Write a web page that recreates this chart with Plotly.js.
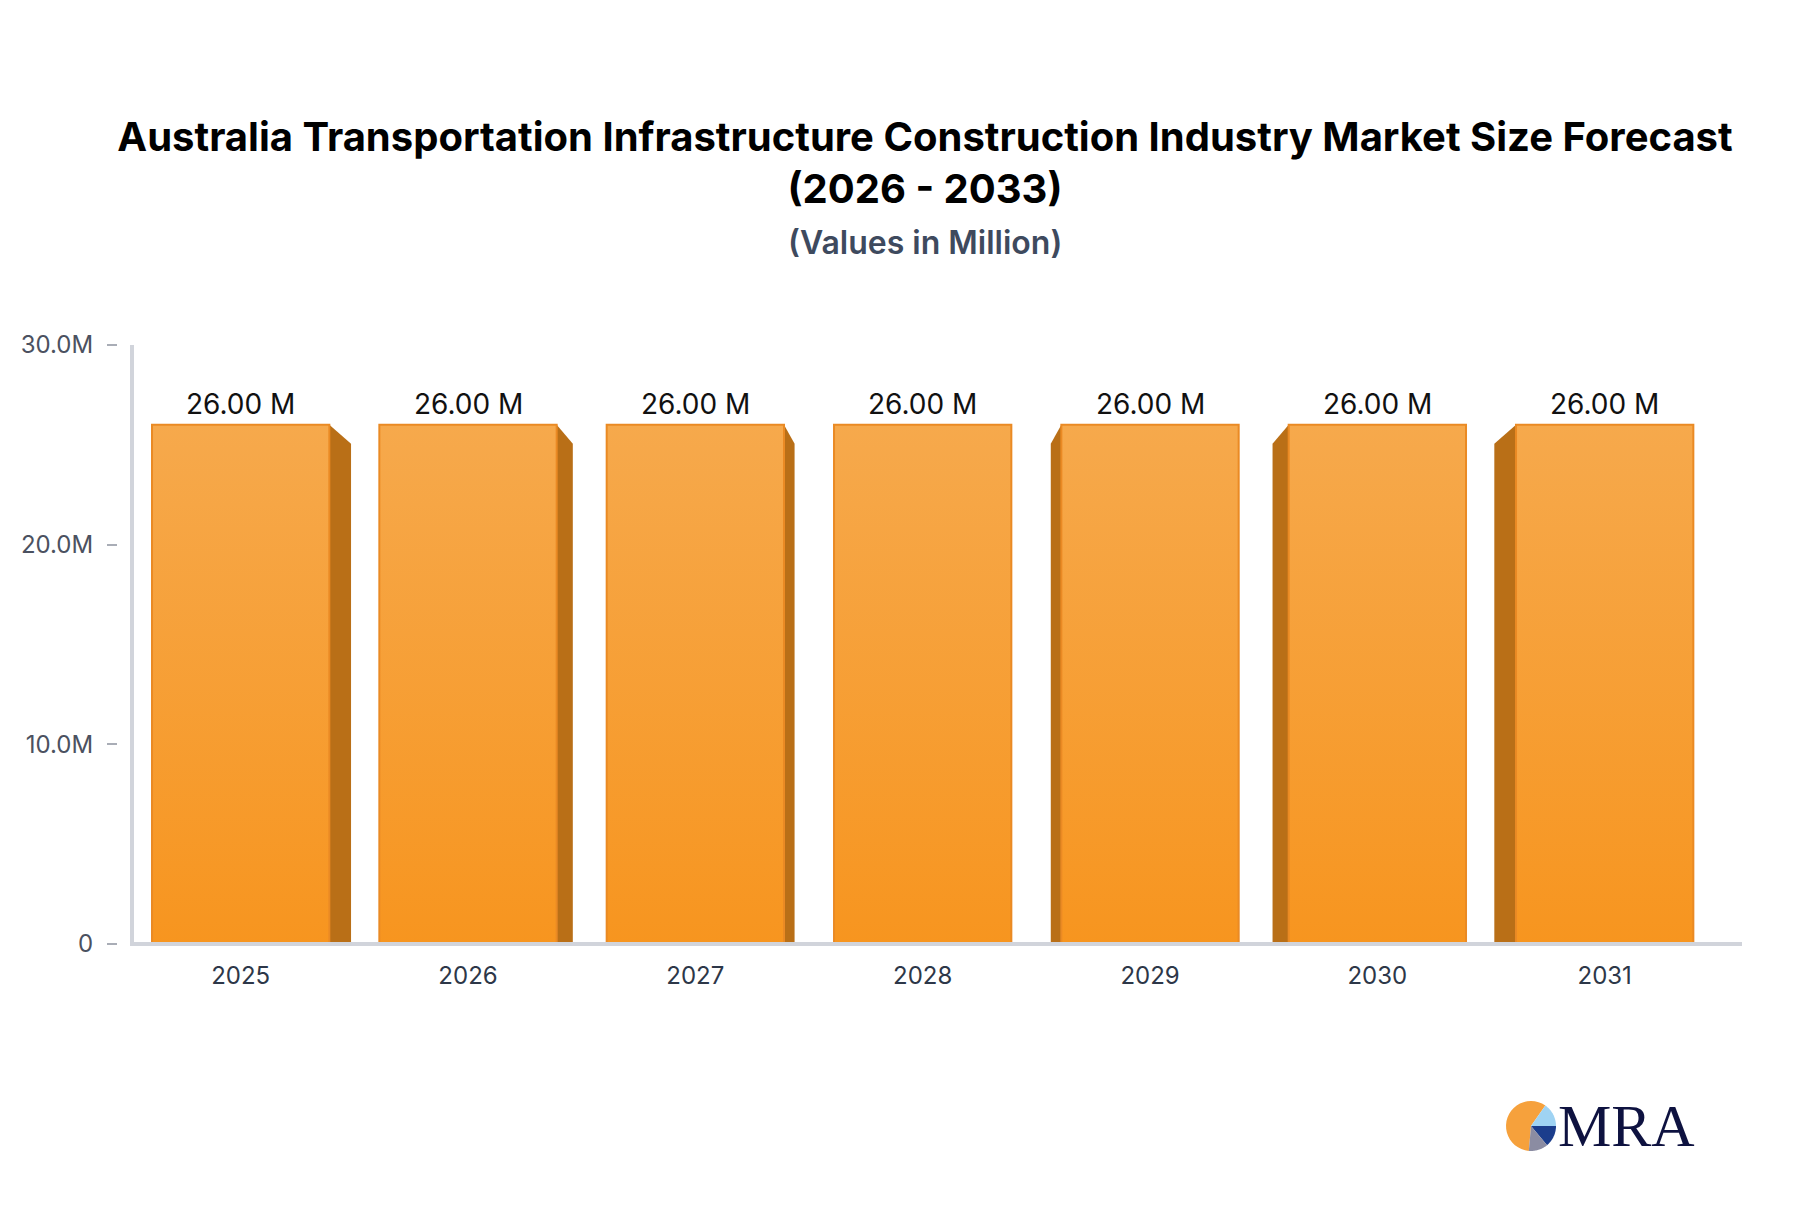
<!DOCTYPE html>
<html><head><meta charset="utf-8">
<script src="https://cdn.plot.ly/plotly-3.0.1.min.js"></script>
<style>html,body{margin:0;padding:0;background:#fff}</style>
</head><body><div id="chart" style="width:1800px;height:1212px"></div>
<script>
// ---- data ----
const years = ['2025', '2026', '2027', '2028', '2029', '2030', '2031'];
const values = [26, 26, 26, 26, 26, 26, 26];
const yTickVals = [0, 10, 20, 30];
const yTickText = ['0', '10.0M', '20.0M', '30.0M'];
const barLabels = values.map(v => v.toFixed(2) + ' M');

// ---- geometry / style ----
const W = 1800, H = 1212;
const M = {l: 118, r: 58, t: 345, b: 268};
const plotW = W - M.l - M.r, plotH = H - M.t - M.b;
const halfW = 0.39;
const mid = (years.length - 1) / 2;
const drop = 0.95;
function depth(i) { const k = Math.abs(i - mid); return k === 0 ? 0 : 0.022 + 0.0245 * k; }
const xs = years.map((_, i) => i);

const traces = [];
xs.forEach((i, idx) => {
  const v = values[idx];
  const d = depth(i);
  if (d > 0) {
    const edge = i < mid ? i + halfW : i - halfW;
    const outer = i < mid ? edge + d : edge - d;
    traces.push({
      type: 'scatter', mode: 'lines', x: [edge, edge, outer, outer, edge], y: [0, v, v - drop, 0, 0],
      fill: 'toself', fillcolor: '#b96f17', line: {width: 0}, hoverinfo: 'skip', showlegend: false
    });
  }
  traces.push({
    type: 'scatter', mode: 'lines',
    x: [i - halfW, i + halfW, i + halfW, i - halfW, i - halfW], y: [0, 0, v, v, 0],
    fill: 'toself', fillcolor: '#f7a035',
    fillgradient: {type: 'vertical', colorscale: [[0, '#f7951f'], [1, '#f6a94c']]},
    line: {color: '#ea8a24', width: 2}, hoverinfo: 'skip', showlegend: false
  });
});

// pixel -> paper helpers for decorations
const px = x => (x - M.l) / plotW;
const py = y => (H - M.b - y) / plotH;

const shapes = [
  {type: 'line', xref: 'paper', yref: 'paper', x0: px(132), x1: px(132), y0: py(944), y1: py(345), line: {color: '#d1d4db', width: 4}, layer: 'above'},
  {type: 'line', xref: 'paper', yref: 'paper', x0: px(130), x1: px(1742), y0: py(944), y1: py(944), line: {color: '#d1d4db', width: 4}, layer: 'above'}
];
// logo pie
const cx = 1531, cy = 1126, r = 25;
function wedge(a0, a1, color) {
  let p = `M ${px(cx)} ${py(cy)}`;
  const n = 24;
  for (let k = 0; k <= n; k++) {
    const a = (a0 + (a1 - a0) * k / n) * Math.PI / 180;
    p += ` L ${px(cx + r * Math.cos(a))} ${py(cy - r * Math.sin(a))}`;
  }
  return {type: 'path', xref: 'paper', yref: 'paper', path: p + ' Z', fillcolor: color, line: {width: 0}};
}
shapes.push(wedge(55, 265, '#f6a13c'));
shapes.push(wedge(0, 55, '#9fd3f3'));
shapes.push(wedge(-50, 0, '#1b3d8c'));
shapes.push(wedge(-95, -50, '#8b8ca2'));

const annotations = xs.map((i, idx) => ({
  text: barLabels[idx], x: i, y: values[idx], xref: 'x', yref: 'y', xanchor: 'center', yanchor: 'bottom',
  yshift: 2, showarrow: false, font: {family: 'Inter, sans-serif', size: 28, color: '#111'}
}));
annotations.push(
  {text: '(Values in Million)', xref: 'paper', yref: 'paper', x: px(925), y: py(242), xanchor: 'center', yanchor: 'middle',
   showarrow: false, font: {family: 'Inter, sans-serif', size: 32, color: '#3e4a5e', weight: 600}},
  {text: 'MRA', xref: 'paper', yref: 'paper', x: px(1556), y: py(1126), xanchor: 'left', yanchor: 'middle',
   showarrow: false, font: {family: 'Liberation Serif, serif', size: 60, color: '#0e1240'}}
);

const layout = {
  width: W, height: H, margin: M,
  paper_bgcolor: '#ffffff', plot_bgcolor: '#ffffff',
  title: {
    text: 'Australia Transportation Infrastructure Construction Industry Market Size Forecast<br>(2026 - 2033)',
    font: {family: 'Inter, sans-serif', size: 40, color: '#000', weight: 'bold'},
    xref: 'paper', x: px(925), xanchor: 'center', yref: 'container', y: 1 - 151 / H, yanchor: 'middle'
  },
  xaxis: {
    range: [-0.5 - (127 - M.l) / 227.3, 6.604], tickmode: 'array', tickvals: xs, ticktext: years,
    showgrid: false, zeroline: false, showline: false, ticks: '',
    tickfont: {family: 'Inter, sans-serif', size: 24, color: '#2d3748'}, ticklabelstandoff: 15, fixedrange: true
  },
  yaxis: {
    range: [0, 30], tickmode: 'array', tickvals: yTickVals, ticktext: yTickText,
    showgrid: false, zeroline: false, showline: false, ticks: 'outside', ticklen: 10, tickwidth: 2, tickcolor: '#a9adb6',
    tickfont: {family: 'Inter, sans-serif', size: 24, color: '#4b5160'}, ticklabelstandoff: 9, fixedrange: true
  },
  shapes: shapes,
  annotations: annotations
};
Plotly.newPlot('chart', traces, layout, {displayModeBar: false, staticPlot: true});
</script></body></html>
